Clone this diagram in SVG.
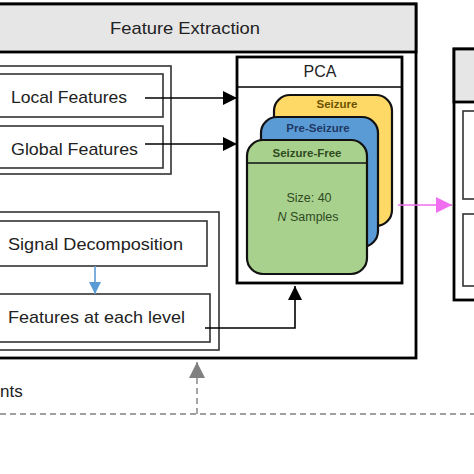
<svg xmlns="http://www.w3.org/2000/svg" width="474" height="474" viewBox="0 0 474 474">
<defs>
<style>
text{font-family:"Liberation Sans",Arial,sans-serif;fill:#222}
.lbl{font-size:17px}
.card{font-size:11.5px;font-weight:bold;text-anchor:middle}
.box{fill:#fff;stroke:#333;stroke-width:1.6}
.thick{fill:#fff;stroke:#000;stroke-width:2.8}
.conn{fill:none;stroke:#000;stroke-width:1.6}
</style>
<marker id="ah" viewBox="0 0 10 10" refX="10" refY="5" markerWidth="16" markerHeight="14" markerUnits="userSpaceOnUse" orient="auto"><path d="M0,0 L10,5 L0,10 z" fill="#000"/></marker>
<marker id="ahBlue" viewBox="0 0 10 10" refX="10" refY="5" markerWidth="12" markerHeight="16" markerUnits="userSpaceOnUse" orient="auto"><path d="M0,0 L10,5 L0,10 z" fill="#5B9BD5"/></marker>
<marker id="ahPink" viewBox="0 0 10 10" refX="10" refY="5" markerWidth="17" markerHeight="16" markerUnits="userSpaceOnUse" orient="auto"><path d="M0,0 L10,5 L0,10 z" fill="#F06EF0"/></marker>
<marker id="ahGray" viewBox="0 0 10 10" refX="10" refY="5" markerWidth="16" markerHeight="16" markerUnits="userSpaceOnUse" orient="auto"><path d="M0,0 L10,5 L0,10 z" fill="#808080"/></marker>
</defs>
<rect width="474" height="474" fill="#fff"/>

<g id="feature-extraction">
<rect class="thick" x="-5" y="4" width="421" height="354"/>
<rect x="-5" y="4" width="421" height="48" fill="#E6E6E6" stroke="#000" stroke-width="2.8"/>
<text x="185" y="34" font-size="17" text-anchor="middle" textLength="150" lengthAdjust="spacingAndGlyphs">Feature Extraction</text>
</g>

<g id="right-block">
<rect class="thick" x="454" y="49" width="30" height="251"/>
<rect x="454" y="49" width="30" height="53" fill="#E6E6E6" stroke="#000" stroke-width="2.8"/>
<rect class="box" x="463" y="111" width="20" height="88"/>
<rect class="box" x="463" y="214" width="20" height="72"/>
</g>

<g id="local-global-group">
<rect class="box" x="-5" y="66" width="176" height="108"/>
</g>
<g id="local-features">
<rect class="box" x="-5" y="74" width="168" height="43"/>
<text class="lbl" x="11" y="103" textLength="116" lengthAdjust="spacingAndGlyphs">Local Features</text>
</g>
<g id="global-features">
<rect class="box" x="-5" y="126" width="168" height="42"/>
<text class="lbl" x="11" y="155" textLength="127" lengthAdjust="spacingAndGlyphs">Global Features</text>
</g>

<g id="decomposition-group">
<rect class="box" x="-5" y="212" width="224" height="138"/>
</g>
<g id="signal-decomposition">
<rect class="box" x="-5" y="221" width="212" height="45"/>
<text class="lbl" x="8" y="250" textLength="175" lengthAdjust="spacingAndGlyphs">Signal Decomposition</text>
</g>
<g id="features-each-level">
<rect class="box" x="-5" y="294" width="215" height="48"/>
<text class="lbl" x="8" y="323" textLength="177" lengthAdjust="spacingAndGlyphs">Features at each level</text>
</g>

<g id="pca">
<rect class="thick" x="237" y="57" width="165" height="226"/>
<line x1="237" y1="87" x2="402" y2="87" stroke="#000" stroke-width="1.6"/>
<text x="320" y="77" font-size="16" text-anchor="middle">PCA</text>
</g>
<g id="card-seizure">
<rect x="274" y="95" width="118" height="131" rx="16" fill="#FFD966" stroke="#111" stroke-width="2.2"/>
<text class="card" x="337" y="108" style="fill:#6B5200">Seizure</text>
</g>
<g id="card-pre-seizure">
<rect x="261" y="117" width="117" height="130" rx="16" fill="#5B9BD5" stroke="#111" stroke-width="2.2"/>
<text class="card" x="318" y="132" style="fill:#1F3864">Pre-Seizure</text>
</g>
<g id="card-seizure-free">
<rect x="247" y="140" width="120" height="134" rx="16" fill="#A9D18E" stroke="#111" stroke-width="2.2"/>
<line x1="247" y1="163" x2="367" y2="163" stroke="#111" stroke-width="1.6"/>
<text class="card" x="307" y="157" style="fill:#2E4A1E">Seizure-Free</text>
<text x="309" y="202" font-size="12.5" text-anchor="middle" style="fill:#2E4A1E">Size: 40</text>
<text x="308" y="221" font-size="12.5" text-anchor="middle" style="fill:#2E4A1E"><tspan font-style="italic">N</tspan> Samples</text>
</g>

<g id="connectors">
<line class="conn" x1="145" y1="98" x2="237" y2="98" marker-end="url(#ah)"/>
<line class="conn" x1="145" y1="144" x2="237" y2="144" marker-end="url(#ah)"/>
<polyline class="conn" points="205,328 295,328 295,286" marker-end="url(#ah)"/>
<line x1="95" y1="266" x2="95" y2="294" stroke="#5B9BD5" stroke-width="1.6" marker-end="url(#ahBlue)"/>
<line x1="398" y1="205" x2="452" y2="205" stroke="#F06EF0" stroke-width="1.4" marker-end="url(#ahPink)"/>
<line x1="0" y1="414" x2="474" y2="414" stroke="#808080" stroke-width="1.4" stroke-dasharray="6,4"/>
<line x1="197" y1="414" x2="197" y2="362" stroke="#808080" stroke-width="1.4" stroke-dasharray="6,4" marker-end="url(#ahGray)"/>
</g>

<text class="lbl" x="0" y="397">nts</text>
</svg>
